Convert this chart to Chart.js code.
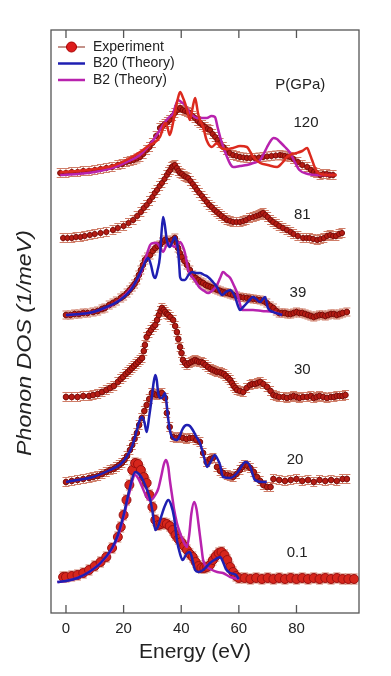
<!DOCTYPE html>
<html>
<head>
<meta charset="utf-8">
<script src="https://cdn.jsdelivr.net/npm/chart.js@4.4.0/dist/chart.umd.min.js"></script>
<style>
  body { margin: 0; background: #fff; }
  canvas { display: block; }
</style>
</head>
<body>
<canvas id="dos" width="391" height="676"></canvas>
<script>
// --- dados: [energia (eV), DOS relativa] ---
const xTicks = [0, 20, 40, 60, 80];
const pressures = ['120', '81', '39', '30', '20', '0.1'];
const offsets = { p120: 44.0, p81: 37.5, p39: 29.8, p30: 21.6, p20: 13.2, p01: 3.4 };

// 0.1 GPa
const exp01 = [[-1,0.2],[0,0.2],[2,0.3],[4,0.4],[6,0.6],[8,0.9],[10,1.3],[12,1.7],[14,2.2],[16,3.1],[18,4.2],[19,5.2],[20,6.4],[21,7.9],[22,9.4],[23,10.9],[24,11.6],[25,11.5],[26,10.9],[27,10.2],[28,9.6],[29,8.4],[30,7.2],[31,5.9],[32,5.4],[33,5.5],[34,5.6],[35,5.5],[36,5.3],[37,4.9],[38,4.4],[39,4.0],[40,3.7],[41,3.3],[42,2.9],[43,2.5],[44,2.2],[45,1.7],[46,1.3],[47,1.1],[48,1.1],[49,1.2],[50,1.4],[51,1.9],[52,2.3],[53,2.6],[54,2.7],[55,2.4],[56,1.9],[57,1.2],[58,0.7],[59,0.3],[60,0.1],[62,0.1],[64,0.0],[66,0.1],[68,0.0],[70,0.1],[72,0.0],[74,0.1],[76,0.0],[78,0.1],[80,0.0],[82,0.1],[84,0.0],[86,0.1],[88,0.0],[90,0.1],[92,0.0],[94,0.1],[96,0.0],[98,0.0],[100,0.0]];
const b20_01 = [[-3,-0.3],[0,-0.2],[4,0.1],[8,0.7],[12,1.6],[16,3.1],[18,4.4],[20,6.4],[22,8.9],[24,10.7],[25.3,10.5],[26.7,9.9],[28,9.0],[29,8.2],[30,6.8],[31,4.9],[32,5.3],[33,6.2],[34.3,7.3],[35.5,7.9],[36.5,7.4],[37.5,6.2],[38.5,3.9],[39.5,2.6],[40.5,1.9],[41.8,2.5],[43,2.7],[44,1.8],[44.8,0.9],[46,0.7],[47.6,0.9],[49,1.3],[50,1.6],[52,2.0],[53.5,2.2],[54.5,1.7],[55.5,1.0],[57,0.6],[59,0.4],[60,0.0]];
const b2_01 = [[-3,-0.3],[0,-0.2],[4,0.1],[8,0.7],[12,1.6],[16,3.0],[18,4.2],[20,6.2],[22,8.6],[24,10.4],[25,10.1],[26,9.5],[28,8.2],[29,7.9],[30,8.0],[31,8.4],[32,9.0],[33,10.2],[34,11.5],[34.7,11.9],[35.5,11.2],[36,10.0],[37,8.0],[37.5,7.0],[38.5,5.6],[39.6,4.6],[41,3.6],[42,3.2],[42.8,4.5],[43.5,6.5],[44.5,7.7],[45.3,7.0],[46,5.5],[47,3.2],[47.6,1.9],[49,1.2],[50.7,0.9],[52.5,0.7],[54.5,0.6],[57,0.2],[60,0.0]];

// 20 GPa
const exp20 = [[0,-0.1],[2,0.0],[4,0.1],[6,0.2],[8,0.3],[9.4,0.4],[11,0.5],[12.5,0.7],[14,0.9],[15.3,1.1],[16.5,1.2],[17.5,1.4],[18.5,1.6],[19.4,1.8],[20.3,2.1],[21.2,2.5],[22.2,3.1],[23,3.6],[23.8,4.2],[24.6,4.8],[25.4,5.6],[26.3,6.3],[27.2,7.0],[28,7.6],[28.9,8.2],[29.8,8.8],[30.6,8.7],[31.5,8.6],[32.4,8.7],[33.3,8.8],[34.4,8.3],[35,6.8],[36,5.4],[37.2,4.4],[38.3,4.3],[39.5,4.4],[40.6,4.3],[41.8,4.2],[43,4.3],[44,4.3],[45.2,4.1],[46.5,3.9],[47.6,2.8],[48.8,1.9],[50,2.2],[51,2.3],[52.4,1.4],[53.5,1.0],[54.5,0.8],[56,0.6],[57,0.5],[58,0.4],[59.2,0.7],[60.4,1.1],[61.2,1.4],[62,1.6],[63,1.5],[64,1.3],[65.2,0.9],[66.3,0.4],[67.4,0.0],[68.5,-0.4],[69.8,-0.6],[71,-0.6],[72,0.2],[74,0.1],[76,0.0],[78,0.1],[80,0.2],[82,0.0],[84,0.1],[86,-0.1],[88,0.1],[90,0.0],[92,0.1],[94,0.0],[96,0.2],[97.5,0.2]];
const b20_20 = [[0,-0.1],[4,0.1],[9.4,0.4],[15.3,1.1],[19,1.7],[21,2.4],[23,3.5],[24.6,5.1],[25.5,6.0],[26.3,6.4],[27.2,5.9],[28,4.9],[28.9,6.5],[29.8,8.4],[30.4,9.8],[31,10.6],[31.5,10.1],[32,8.8],[32.7,8.3],[33.3,8.3],[34.4,8.8],[35.4,6.4],[36.1,5.0],[36.8,4.4],[38.5,4.1],[39.5,4.5],[40.3,5.1],[41.2,5.5],[42,5.6],[43,5.5],[44,5.1],[45.3,4.4],[46.5,3.8],[47.8,2.5],[49,1.4],[50,1.8],[51.7,2.6],[52.6,2.2],[53.5,1.6],[54.5,0.4],[57,0.3],[59.4,0.8],[61,1.5],[62.2,1.9],[63.2,1.8],[64,1.4],[65.6,0.1],[68.4,-0.1],[69.7,-0.1]];

// 30 GPa
const exp30 = [[0,0.0],[2,0.0],[4,0.0],[6,0.1],[8,0.1],[9.4,0.2],[11,0.3],[12.5,0.5],[14,0.7],[15.3,0.9],[16.6,1.1],[18,1.5],[19,1.8],[19.8,2.0],[20.7,2.3],[21.5,2.5],[22.2,2.7],[22.9,2.9],[23.6,3.1],[24.3,3.3],[25,3.5],[25.7,3.7],[26.4,3.9],[27,4.6],[27.4,5.2],[28,6.0],[28.8,6.4],[29.5,6.7],[30.3,7.0],[31,7.2],[31.6,7.7],[32.2,8.2],[32.8,8.6],[33.3,8.9],[33.9,8.7],[34.4,8.5],[35,8.3],[35.5,8.2],[36.2,8.0],[37.2,7.7],[37.9,7.1],[38.5,6.5],[39,5.8],[39.6,5.0],[40.1,4.4],[40.6,3.7],[41.3,3.4],[42,3.2],[42.8,3.4],[43.5,3.5],[44.2,3.6],[44.8,3.7],[45.5,3.6],[46.2,3.5],[47,3.5],[47.6,3.4],[48.4,3.2],[49.3,3.0],[50.2,2.8],[51,2.7],[51.8,2.6],[52.5,2.5],[53.3,2.5],[54,2.4],[54.8,2.3],[55.5,2.1],[56.3,1.9],[57,1.7],[57.6,1.4],[58.2,1.1],[58.8,0.9],[59.4,0.7],[60.4,0.6],[61.5,0.5],[62.7,0.9],[63.9,1.2],[64.7,1.3],[65.6,1.3],[66.5,1.4],[67.4,1.5],[68.5,1.3],[69.8,1.0],[71,0.6],[72,0.2],[73,0.1],[74,0.0],[75.5,0.0],[76.7,-0.1],[78,0.0],[79,0.1],[80,0.0],[81,-0.1],[82.3,0.0],[83.7,0.0],[85,0.1],[86,-0.1],[87,0.0],[88,0.1],[89.3,0.0],[90.6,-0.1],[92,0.0],[93,0.0],[94,0.1],[95,0.1],[96,0.1],[97,0.2]];

// 39 GPa
const exp39 = [[0,0.0],[1.5,0.0],[3,0.1],[4.5,0.1],[6,0.2],[7.5,0.2],[9.4,0.3],[11,0.4],[12.5,0.6],[13.5,0.7],[15,1.0],[16.3,1.2],[17.5,1.4],[19,1.7],[20,1.9],[21.2,2.2],[22.1,2.5],[23,2.8],[23.8,3.1],[24.6,3.5],[25.3,4.0],[26,4.5],[26.7,5.0],[27.4,5.5],[28.3,5.8],[29.2,6.0],[30.1,6.4],[31,6.7],[31.8,6.9],[32.6,7.0],[33.5,7.3],[34.4,7.5],[35.2,7.4],[36,7.3],[36.9,7.5],[37.8,7.7],[38.4,7.2],[38.9,6.7],[39.5,6.2],[40.2,5.8],[41.1,5.4],[42,5.0],[43,4.5],[44,4.0],[45,3.7],[46,3.5],[46.8,3.3],[47.6,3.2],[48.5,3.0],[49.3,2.9],[50.2,2.8],[51,2.7],[51.9,2.6],[52.7,2.5],[53.6,2.4],[54.5,2.3],[55.3,2.25],[56,2.2],[57,2.1],[58,2.0],[59.2,1.9],[60.4,1.8],[61.6,1.75],[62.8,1.7],[63.9,1.65],[65,1.6],[66.2,1.55],[67.4,1.5],[68.5,1.4],[69.7,1.2],[70.9,0.9],[72,0.7],[73,0.4],[74,0.2],[75,0.2],[76,0.2],[77,0.1],[78,0.1],[79,0.2],[80,0.3],[81,0.2],[82,0.2],[83,0.1],[84,0.0],[85,-0.1],[86,-0.2],[87,-0.1],[88,0.0],[89,0.0],[90,-0.1],[91,0.0],[92,0.1],[93,0.1],[94,0.0],[95,0.1],[96,0.2],[97.5,0.3]];
const b20_39 = [[0,0.0],[5,0.1],[9.4,0.3],[14,0.8],[18.8,1.5],[22.5,2.5],[24.5,3.5],[25.7,4.2],[27,5.0],[28.5,5.7],[29.5,5.0],[30.3,4.0],[31,3.7],[31.8,4.5],[32.6,5.8],[33.1,8.0],[33.7,9.8],[34.3,9.0],[35,7.5],[36,6.8],[36.9,7.3],[37.8,7.8],[38.4,7.4],[38.9,6.5],[39.3,5.0],[39.6,3.8],[40.4,3.5],[41.3,3.5],[42.5,4.0],[43.8,4.3],[45,4.2],[46.5,4.2],[48,4.0],[49.3,3.8],[51,3.3],[52.4,2.8],[54.2,2.0],[55.5,2.3],[57,2.5],[58.7,1.8],[59.6,1.0],[60.4,0.5],[61.5,0.8],[62.8,1.2],[64,1.6],[64.9,1.8],[66,1.6],[67.4,1.3],[68.3,1.6],[69.1,1.8],[70.1,0.7],[71.9,0.3],[74,0.1],[75,0.0]];
const b2_39 = [[0,0.0],[5,0.1],[9.4,0.3],[16,1.0],[21.2,2.2],[24,3.2],[26.4,4.5],[27.8,5.8],[29.2,7.0],[30.3,7.2],[31.5,7.2],[32.6,6.8],[33.7,6.3],[34.6,6.8],[35.4,7.2],[36.6,7.0],[37.8,6.8],[38.7,7.1],[39.6,7.3],[40.5,6.9],[41.3,6.2],[41.9,5.3],[42.4,4.5],[43.3,4.0],[44.1,3.7],[45.3,3.2],[46.5,2.7],[48,2.4],[49.3,2.2],[51,2.5],[52.4,3.0],[53.5,3.7],[54.5,4.3],[55.8,4.0],[57,3.7],[58.2,3.0],[59.4,2.2],[60.3,1.2],[61.1,0.5],[63,0.5],[64.9,0.5],[68,0.4],[72,0.3],[75,0.0]];

// 81 GPa
const exp81 = [[-1,0.0],[0.5,0.0],[2,0.0],[3.5,0.1],[5,0.1],[6.5,0.2],[8.3,0.3],[10,0.4],[12,0.5],[14,0.6],[16.3,0.8],[18,1.0],[20,1.2],[21.7,1.5],[23.3,1.8],[24.7,2.2],[26,2.6],[27,3.0],[28,3.3],[29,3.7],[30,4.1],[30.8,4.5],[31.6,4.8],[32.5,5.2],[33.3,5.5],[34.2,5.9],[35,6.3],[35.6,6.6],[36.2,6.8],[36.7,7.1],[37.2,7.2],[37.8,7.3],[38.5,7.0],[39,6.7],[39.6,6.5],[40.3,6.4],[41,6.2],[41.7,6.1],[42.4,6.0],[43.2,5.7],[44,5.4],[44.8,5.1],[45.5,4.8],[46.3,4.5],[47.2,4.2],[48,3.9],[48.9,3.6],[49.7,3.3],[50.6,3.1],[51.5,2.8],[52.4,2.6],[53.2,2.4],[54,2.2],[55,2.0],[55.9,1.8],[57,1.7],[58,1.6],[59.2,1.6],[60.4,1.6],[61.5,1.7],[62.5,1.8],[63.7,2.0],[65,2.1],[66,2.2],[67,2.3],[67.7,2.4],[68.4,2.5],[69.2,2.3],[70,2.1],[71,1.8],[71.9,1.6],[73,1.4],[74,1.2],[75.3,1.0],[76.7,0.8],[78,0.6],[79,0.4],[80.5,0.2],[82.3,0.0],[83.5,0.0],[84.5,0.0],[85.8,-0.1],[87.2,-0.2],[88.3,-0.1],[89.5,0.0],[90.6,0.2],[91.7,0.3],[92.7,0.2],[93.7,0.2],[94.8,0.4],[95.8,0.5]];

// 120 GPa
const exp120 = [[-2,0.0],[0,0.0],[2,0.1],[4,0.1],[6,0.2],[8,0.2],[10,0.3],[12,0.4],[14,0.5],[16,0.6],[18,0.8],[19.5,0.9],[21,1.1],[22.3,1.2],[23.5,1.3],[24.6,1.45],[25.7,1.6],[26.8,1.9],[28,2.3],[29,2.6],[30,3.0],[31.3,3.7],[32.6,4.5],[33.5,4.7],[34.4,4.9],[35.2,5.1],[36,5.3],[37,5.7],[37.8,6.0],[38.7,6.3],[39.6,6.5],[40.5,6.3],[41.3,6.2],[42.2,6.1],[43,6.0],[43.9,5.7],[44.8,5.5],[45.7,5.2],[46.5,5.0],[47.4,4.8],[48.3,4.6],[49.2,4.4],[50,4.3],[50.9,3.9],[51.8,3.6],[52.6,3.3],[53.5,3.0],[54.6,2.6],[55.7,2.3],[56.8,2.0],[58,1.8],[59.2,1.7],[60.4,1.6],[61.6,1.55],[62.8,1.5],[64,1.5],[65.5,1.5],[67,1.55],[68.4,1.6],[69.8,1.65],[71.3,1.7],[72.8,1.75],[74.3,1.8],[75.2,1.75],[76,1.7],[77,1.65],[77.8,1.6],[79,1.4],[80.5,1.1],[82,0.8],[83.7,0.6],[85,0.3],[86,0.1],[87,0.0],[88.2,-0.2],[89.3,-0.1],[90.5,-0.1],[91.6,-0.2],[92.7,-0.2]];
const red120 = [[-2,0.1],[4,0.2],[10,0.4],[16,0.7],[21,1.3],[25.7,2.1],[28,2.6],[29,2.8],[30.5,3.0],[32.6,3.6],[33.6,4.4],[34.4,5.0],[35.2,4.6],[36,3.8],[37,4.8],[37.8,6.0],[38.8,7.4],[39.6,8.1],[40.5,7.6],[41.3,7.0],[42.2,6.1],[43,5.3],[44,6.6],[44.8,7.5],[45.3,6.9],[45.8,6.0],[46.5,5.3],[47.6,4.6],[48.8,3.3],[50.6,2.6],[52.4,3.0],[53.5,2.6],[55,2.4],[56.3,2.4],[58,2.5],[60.4,2.7],[62.8,2.6],[64,2.1],[65,1.6],[67.4,1.0],[70,0.8],[73.3,0.6],[75,1.0],[76.7,1.6],[78.5,1.9],[80,2.0],[82,2.2],[83.7,2.5],[84.5,2.0],[85.4,1.3],[86.3,0.6],[87.2,0.1],[90.6,-0.2],[94,-0.2]];
const mag120 = [[-2,-0.2],[4,-0.1],[10,0.1],[16,0.5],[21,1.1],[25.7,1.8],[29,2.8],[31.5,3.8],[33.7,4.8],[35.5,5.5],[37.2,6.0],[38.1,6.8],[38.9,7.3],[40,7.1],[41.3,6.8],[43,6.0],[44.2,5.7],[45.5,5.5],[47.2,5.5],[48.9,5.5],[50.5,5.7],[51.7,5.6],[52.6,4.6],[53.5,3.6],[54.7,2.5],[55.9,1.6],[57,0.9],[58,0.6],[60.4,0.7],[62.8,0.8],[65,1.0],[67.4,1.3],[68.6,1.9],[69.8,2.6],[71,3.2],[72,3.5],[73.2,3.4],[74.3,3.1],[76,2.6],[77.8,2.0],[79.4,1.1],[81,0.3],[84,-0.1],[87,-0.2],[92.7,-0.2]];

const legendLabels = ['Experiment', 'B20 (Theory)', 'B2 (Theory)'];

// --- estilos ---
const COR_EXP = '#b41c14';
const COR_EXP_BORDA = '#7c0c08';
const COR_EXP_LINHA = '#d0605a';
const COR_ERRO = '#cf7d68';
const COR_B20 = '#1f1fb2';
const COR_B2 = '#b822ae';
const COR_VERM = '#dc2a1e';
const FONTE = '"Liberation Sans", Arial, sans-serif';

const toXY = (pares, off) => pares.map(p => ({ x: p[0], y: p[1] + off }));

function expSet(pares, off, raio, erro, extra) {
    return Object.assign({
        data: toXY(pares, off), showLine: true, borderColor: COR_EXP_LINHA, borderWidth: 1,
        pointRadius: raio, pointBackgroundColor: COR_EXP, pointBorderColor: COR_EXP_BORDA,
        pointBorderWidth: 1, errBar: erro, order: 2
    }, extra || {});
}
function teoSet(pares, off, cor) {
    return {
        data: toXY(pares, off), showLine: true, borderColor: cor, borderWidth: 2.5,
        pointRadius: 0, cubicInterpolationMode: 'monotone', order: 1
    };
}

const datasets = [
    expSet(exp01, offsets.p01, 4.5, 0.5, { pointBackgroundColor: '#d6261c', pointBorderColor: '#9a1010' }),
    teoSet(b20_01, offsets.p01, COR_B20),
    teoSet(b2_01, offsets.p01, COR_B2),
    expSet(exp20, offsets.p20, 2.8, 0.45),
    teoSet(b20_20, offsets.p20, COR_B20),
    expSet(exp30, offsets.p30, 2.8, 0.45),
    expSet(exp39, offsets.p39, 2.8, 0.4),
    teoSet(b20_39, offsets.p39, COR_B20),
    teoSet(b2_39, offsets.p39, COR_B2),
    expSet(exp81, offsets.p81, 2.6, 0.45),
    expSet(exp120, offsets.p120, 2.6, 0.45, { borderColor: '#e8306a', borderWidth: 1.5 }),
    teoSet(red120, offsets.p120, COR_VERM),
    teoSet(mag120, offsets.p120, COR_B2)
];

// posições dos rótulos de pressão (eV, unidade do eixo y)
const rotuloEV = [83.3, 82, 80.5, 82, 79.5, 80.2];
const rotuloY = [49.0, 39.8, 32.0, 24.3, 15.3, 6.0];

// --- plugin: barras de erro, moldura, ticks internos, textos ---
const decoracao = {
    id: 'decoracao',
    beforeDatasetDraw(chart, args) {
        const ds = chart.data.datasets[args.index];
        if (!ds.errBar) return;
        const ctx = chart.ctx, ys = chart.scales.y;
        const dy = Math.abs(ys.getPixelForValue(ds.errBar) - ys.getPixelForValue(0));
        ctx.save();
        ctx.strokeStyle = COR_ERRO;
        ctx.lineWidth = 1;
        ctx.beginPath();
        args.meta.data.forEach(pt => {
            ctx.moveTo(pt.x, pt.y - dy); ctx.lineTo(pt.x, pt.y + dy);
            ctx.moveTo(pt.x - 3.5, pt.y - dy); ctx.lineTo(pt.x + 3.5, pt.y - dy);
            ctx.moveTo(pt.x - 3.5, pt.y + dy); ctx.lineTo(pt.x + 3.5, pt.y + dy);
        });
        ctx.stroke();
        ctx.restore();
    },
    afterDraw(chart) {
        const ctx = chart.ctx, a = chart.chartArea;
        const xs = chart.scales.x, ys = chart.scales.y;
        ctx.save();
        // moldura
        ctx.strokeStyle = '#555';
        ctx.lineWidth = 1.3;
        ctx.strokeRect(a.left, a.top, a.right - a.left, a.bottom - a.top);
        // ticks para dentro
        ctx.beginPath();
        xTicks.forEach(v => {
            const px = xs.getPixelForValue(v);
            ctx.moveTo(px, a.bottom); ctx.lineTo(px, a.bottom - 8);
            ctx.moveTo(px, a.top); ctx.lineTo(px, a.top + 8);
        });
        ctx.stroke();

        ctx.fillStyle = '#222';
        ctx.textBaseline = 'middle';
        // título x
        ctx.textAlign = 'center';
        ctx.font = '21px ' + FONTE;
        ctx.fillText('Energy (eV)', 195, 652);
        // título y
        ctx.save();
        ctx.translate(25, 343);
        ctx.rotate(-Math.PI / 2);
        ctx.font = 'italic 20px ' + FONTE;
        const k = 226 / ctx.measureText('Phonon DOS (1/meV)').width;
        ctx.scale(k, 1);
        ctx.fillText('Phonon DOS (1/meV)', 0, 0);
        ctx.restore();

        // rótulos de pressão
        ctx.font = '15px ' + FONTE;
        ctx.fillText('P(GPa)', xs.getPixelForValue(81.3), ys.getPixelForValue(52.8));
        pressures.forEach((p, i) => {
            ctx.fillText(p, xs.getPixelForValue(rotuloEV[i]), ys.getPixelForValue(rotuloY[i]));
        });

        // legenda
        const ly = [47, 63.5, 80];
        const cores = [COR_EXP_LINHA, COR_B20, COR_B2];
        ctx.textAlign = 'left';
        ctx.font = '14px ' + FONTE;
        legendLabels.forEach((txt, i) => {
            ctx.strokeStyle = i === 0 ? '#c4928a' : cores[i];
            ctx.lineWidth = i === 0 ? 2 : 2.5;
            ctx.beginPath();
            ctx.moveTo(58, ly[i]); ctx.lineTo(85, ly[i]);
            ctx.stroke();
            if (i === 0) {
                ctx.beginPath();
                ctx.arc(71.5, ly[i], 5, 0, Math.PI * 2);
                ctx.fillStyle = '#dd1c1c';
                ctx.fill();
                ctx.strokeStyle = '#a00';
                ctx.lineWidth = 1;
                ctx.stroke();
                ctx.fillStyle = '#222';
            }
            ctx.fillText(txt, 93, ly[i]);
        });
        ctx.restore();
    }
};

new Chart(document.getElementById('dos').getContext('2d'), {
    type: 'scatter',
    data: { datasets },
    options: {
        responsive: false,
        animation: false,
        layout: { padding: { top: 30, right: 32, bottom: 0, left: 0 } },
        plugins: { legend: { display: false }, tooltip: { enabled: false } },
        scales: {
            x: {
                type: 'linear', position: 'bottom', min: -5.2, max: 101.7,
                afterBuildTicks: s => { s.ticks = xTicks.map(v => ({ value: v })); },
                afterFit: s => { s.height = 63; },
                grid: { display: false, drawTicks: false },
                border: { display: false },
                ticks: { padding: 7, color: '#222', font: { size: 15, family: FONTE } }
            },
            y: {
                min: 0, max: 58.3,
                afterFit: s => { s.width = 51; },
                grid: { display: false, drawTicks: false },
                border: { display: false },
                ticks: { display: false }
            }
        }
    },
    plugins: [decoracao]
});
</script>
</body>
</html>
